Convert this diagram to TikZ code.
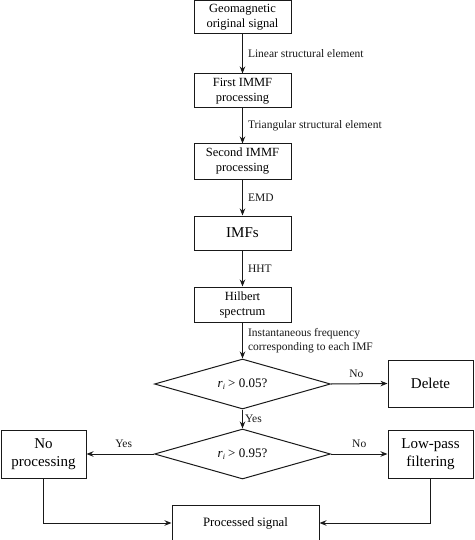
\documentclass[tikz,border=0pt]{standalone}
\usepackage{fontspec}
\setmainfont{Liberation Serif}
\usepackage{xcolor}
\usetikzlibrary{positioning,shapes.geometric,arrows.meta}

\newcommand{\ri}{\textit{r}\raisebox{-0.35ex}{\fontsize{8}{8}\selectfont\textit{i}}}

\begin{document}
\begin{tikzpicture}[x=1pt,y=-1pt,
  box/.style={draw=drawColor,line width=1pt,align=center,inner sep=0pt,
    minimum width=97pt,font=\fontsize{12.5}{15}\selectfont},
  bigbox/.style={box,minimum width=85pt,font=\fontsize{15}{18}\selectfont},
  test/.style={draw=drawColor,line width=1pt,diamond,aspect=3.5,inner sep=0pt,
    minimum width=176pt,minimum height=50pt,font=\fontsize{13}{15}\selectfont},
  flow/.style={draw=drawColor,line width=1pt,-{Stealth[length=7pt,width=5.5pt]}},
  lbl/.style={text=drawColor,align=left,inner sep=0pt,font=\fontsize{11.5}{14}\selectfont}]
\definecolor{drawColor}{RGB}{25,25,25}
\path[use as bounding box,fill=white] (0,0) rectangle (474,540);

% main column
\node[box,minimum height=33pt] (geo) at (242.5, 17.5) {Geomagnetic\\original signal};
\node[box,minimum height=34pt] (first) at (242.5, 91.0) {First IMMF\\processing};
\node[box,minimum height=35pt] (second) at (242.5,161.5) {Second IMMF\\processing};
\node[box,minimum height=34pt,font=\fontsize{15}{18}\selectfont] (imfs) at (242.5,233.0) {IMFs};
\node[box,minimum height=35pt] (hilbert) at (242.5,304.5) {Hilbert\\spectrum};

% decisions
\node[test] (dec1) at (242.5,384.0) {\ri\ {>} 0.05?};
\node[test] (dec2) at (242.5,454.0) {\ri\ {>} 0.95?};

% outcomes
\node[bigbox,minimum height=47pt] (delete) at (430.5,383.5) {Delete};
\node[bigbox,minimum height=48pt] (noproc) at ( 43.5,454.0) {No\\processing};
\node[bigbox,minimum height=48pt] (lowpass) at (430.5,454.0) {Low-pass\\filtering};
\node[box,minimum width=147pt,minimum height=36pt,font=\fontsize{12.8}{15}\selectfont] (out) at (245.5,523.0) {Processed signal};

\draw[flow] (geo) -- node[lbl,right=5pt] {Linear structural element} (first);
\draw[flow] (first) -- node[lbl,right=5pt] {Triangular structural element} (second);
\draw[flow] (second) -- node[lbl,right=5pt] {EMD} (imfs);
\draw[flow] (imfs) -- node[lbl,right=5pt] {HHT} (hilbert);
\draw[flow] (hilbert) -- node[lbl,right=5pt] {Instantaneous frequency\\corresponding to each IMF} (dec1);
\draw[flow] (dec1) -- node[lbl,right=2pt] {Yes} (dec2);
\draw[flow] (dec1.east) -- node[lbl,above=6pt,pos=0.45] {No} (delete.west);
\draw[flow] (dec2.west) -- node[lbl,above=6pt,pos=0.45] {Yes} (noproc.east);
\draw[flow] (dec2.east) -- node[lbl,above=6pt,pos=0.5] {No} (lowpass.west);
\draw[flow] (noproc.south) |- (out.west);
\draw[flow] (lowpass.south) |- (out.east);
\end{tikzpicture}
\end{document}
